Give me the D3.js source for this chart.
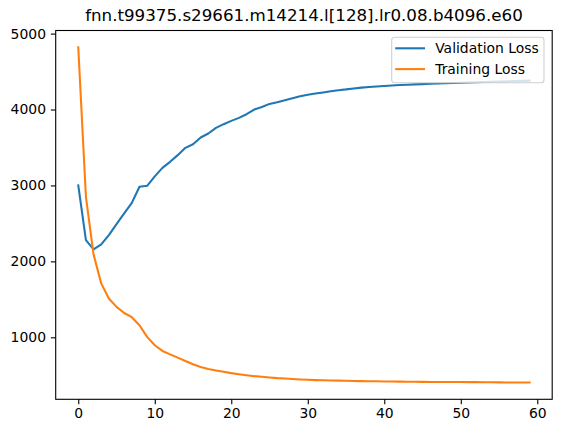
<!DOCTYPE html>
<html lang="en">
<head>
    <meta charset="UTF-8">
    <title>fnn loss</title>
    <script src="https://d3js.org/d3.v7.min.js"></script>
    <style>
        body { margin: 0; background-color: white; }
        svg text { font-family: "DejaVu Sans", sans-serif; fill: #000; }
    </style>
</head>
<body>
    <div id="chart"></div>
    <script>
        // values
        const titleText = "fnn.t99375.s29661.m14214.l[128].lr0.08.b4096.e60";
        const seriesNames = ["Validation Loss", "Training Loss"];
        const seriesColors = ["#1f77b4", "#ff7f0e"];
        const xTicks = [0, 10, 20, 30, 40, 50, 60];
        const yTicks = [1000, 2000, 3000, 4000, 5000];

        const validationLoss = [
            3000, 2280, 2158, 2224, 2346, 2490, 2631, 2771, 2982, 2995,
            3120, 3232, 3311, 3399, 3495, 3543, 3631, 3684, 3758, 3807,
            3850, 3890, 3938, 4000, 4034, 4074, 4096, 4122, 4149, 4175,
            4195, 4210, 4225, 4240, 4255, 4265, 4278, 4288, 4296, 4303,
            4310, 4316, 4322, 4327, 4331, 4335, 4339, 4343, 4346, 4350,
            4353, 4356, 4359, 4362, 4365, 4368, 4371, 4374, 4377, 4380
        ];
        const trainingLoss = [
            4820, 2850, 2090, 1710, 1510, 1400, 1320, 1265, 1159, 1005,
            895, 820, 775, 732, 688, 644, 609, 582, 563, 546,
            528, 514, 501, 488, 480, 471, 462, 458, 451, 445,
            440, 436, 433, 431, 429, 427, 425, 423, 421, 420,
            418, 417, 416, 415, 414, 413, 412, 412, 411, 410,
            410, 409, 409, 408, 407, 406, 405, 405, 404, 404
        ];
        const series = [validationLoss, trainingLoss];

        const width = 561, height = 433;
        const margin = { left: 55.7, right: 8.8, top: 30.5, bottom: 33.7 };

        const svg = d3.select("#chart").append("svg")
            .attr("width", width)
            .attr("height", height);

        // matplotlib style 5% padding on both axes
        const n = validationLoss.length;
        const xPad = (n - 1) * 0.05;
        const x = d3.scaleLinear()
            .domain([-xPad, n - 1 + xPad])
            .range([margin.left, width - margin.right]);

        const allValues = validationLoss.concat(trainingLoss);
        const yMin = d3.min(allValues), yMax = d3.max(allValues);
        const yPad = (yMax - yMin) * 0.05;
        const y = d3.scaleLinear()
            .domain([yMin - yPad, yMax + yPad])
            .range([height - margin.bottom, margin.top]);

        const line = d3.line()
            .x((d, i) => x(i))
            .y(d => y(d));

        series.forEach((values, k) => {
            svg.append("path")
                .datum(values)
                .attr("fill", "none")
                .attr("stroke", seriesColors[k])
                .attr("stroke-width", 2.08)
                .attr("stroke-linejoin", "round")
                .attr("stroke-linecap", "square")
                .attr("d", line);
        });

        // axes
        const xAxis = svg.append("g")
            .attr("transform", `translate(0,${height - margin.bottom})`)
            .call(d3.axisBottom(x).tickValues(xTicks).tickSize(4.86).tickPadding(3.5).tickFormat(d3.format("d")));
        const yAxis = svg.append("g")
            .attr("transform", `translate(${margin.left},0)`)
            .call(d3.axisLeft(y).tickValues(yTicks).tickSize(4.86).tickPadding(4.86).tickFormat(d3.format("d")));

        [xAxis, yAxis].forEach(g => {
            g.select(".domain").remove();
            g.selectAll(".tick line").attr("stroke", "#000").attr("stroke-width", 1.1);
            g.selectAll(".tick text").style("font-size", "13.9px").attr("fill", "#000");
        });

        // frame
        svg.append("rect")
            .attr("x", margin.left)
            .attr("y", margin.top)
            .attr("width", width - margin.left - margin.right)
            .attr("height", height - margin.top - margin.bottom)
            .attr("fill", "none")
            .attr("stroke", "#000")
            .attr("stroke-width", 1.1);

        // title
        svg.append("text")
            .attr("x", (margin.left + width - margin.right) / 2)
            .attr("y", 21)
            .attr("text-anchor", "middle")
            .style("font-size", "16.7px")
            .text(titleText);

        // legend
        const legend = svg.append("g").attr("transform", "translate(391.7,37.3)");
        legend.append("rect")
            .attr("width", 152.3)
            .attr("height", 45.4)
            .attr("rx", 2.8)
            .attr("fill", "rgba(255,255,255,0.8)")
            .attr("stroke", "#d0d0d0")
            .attr("stroke-width", 1.1);

        seriesNames.forEach((name, k) => {
            const yy = 11 + k * 20.8;
            legend.append("line")
                .attr("x1", 3.5).attr("x2", 33.3)
                .attr("y1", yy).attr("y2", yy)
                .attr("stroke", seriesColors[k])
                .attr("stroke-width", 2.08);
            legend.append("text")
                .attr("x", 43.5)
                .attr("y", yy)
                .attr("dy", "0.35em")
                .style("font-size", "13.9px")
                .text(name);
        });
    </script>
</body>
</html>
